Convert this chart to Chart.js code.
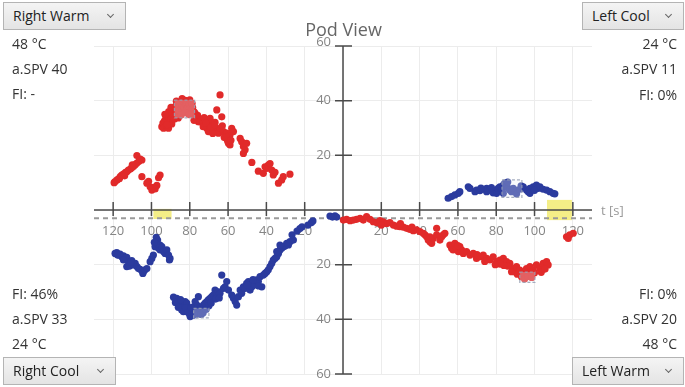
<!DOCTYPE html>
<html>

<head>
  <script src="https://cdn.jsdelivr.net/npm/chart.js@4.4.0/dist/chart.umd.min.js"></script>
  <style>
    body { margin: 0; background: #fff; font-family: 'Open Sans', sans-serif; }
    #wrap { position: relative; width: 685px; height: 387px; overflow: hidden; }
    #pod { position: absolute; left: 0; top: 0; }
    .title { position: absolute; left: 0; width: 687px; top: 17px; text-align: center; font-size: 18px; color: #666; }
    .combo { position: absolute; height: 26px; line-height: 26px; border: 1px solid #b4b4b4; padding-left: 9px;
      background: linear-gradient(#f4f4f4, #e4e4e4); font-size: 14px; color: #222; box-sizing: content-box; }
    .combo i { position: absolute; right: 12px; top: 9px; width: 4px; height: 4px; border-right: 1.4px solid #666;
      border-bottom: 1.4px solid #666; transform: rotate(45deg); }
    .lbl { position: absolute; font-size: 14px; color: #333; line-height: 20px; white-space: nowrap; }
    .l { left: 12px; }
    .r { right: 8px; text-align: right; }
  </style>
</head>

<body>
  <div id="wrap">
    <canvas id="pod" width="685" height="387"></canvas>
    <div class="title">Pod View</div>

    <div class="combo" style="left:3px;top:2px;width:112px">Right Warm<i></i></div>
    <div class="lbl l" style="top:34px">48 °C</div>
    <div class="lbl l" style="top:59px">a.SPV 40</div>
    <div class="lbl l" style="top:84px">FI: -</div>

    <div class="combo" style="left:582px;top:2px;width:91px">Left Cool<i></i></div>
    <div class="lbl r" style="top:34px">24 °C</div>
    <div class="lbl r" style="top:59px">a.SPV 11</div>
    <div class="lbl r" style="top:85px">FI: 0%</div>

    <div class="lbl l" style="top:284px">FI: 46%</div>
    <div class="lbl l" style="top:309px">a.SPV 33</div>
    <div class="lbl l" style="top:334px">24 °C</div>
    <div class="combo" style="left:3px;top:357px;width:102px">Right Cool<i></i></div>

    <div class="lbl r" style="top:284px">FI: 0%</div>
    <div class="lbl r" style="top:309px">a.SPV 20</div>
    <div class="lbl r" style="top:334px">48 °C</div>
    <div class="combo" style="left:572px;top:357px;width:101px">Left Warm<i></i></div>
  </div>

  <script type="text/javascript">
    // axes / ticks
    const xTicks = [-120, -100, -80, -60, -40, -20, 20, 40, 60, 80, 100, 120];
    const yTicks = [-60, -40, -20, 20, 40, 60];
    const xGrid = [-120, -100, -80, -60, -40, -20, 0, 20, 40, 60, 80, 100, 120];
    const yGrid = [-60, -40, -20, 0, 20, 40, 60];
    const baseLine = -3; // dashed line under the time axis

    // marked regions [x1, x2, y1, y2]
    const yellowBoxes = [[-99, -89.5, -3.3, 0.4], [106.5, 119.5, -3.7, 3.7]];
    const dashBoxes = [[-88, -77.5, 33.7, 40.2], [-78, -70, -39.5, -36], [83, 93.4, 4.6, 11], [92.3, 100.2, -26.5, -22.7]];

    // Right Warm (upper left, red)
    const rightWarm = [
      [-119.5, 10], [-119, 10.4], [-118, 11], [-117, 11.5], [-116.3, 12.2], [-115.5, 12.8], [-114.5, 13.2],
      [-113.5, 13.8], [-112.9, 14], [-112, 14.6], [-111, 15], [-110.3, 15.5], [-109.4, 15.9], [-108.5, 16.6],
      [-107.6, 17.2], [-107.6, 19.9], [-106.5, 17.8], [-105.9, 18.6], [-105, 18.3], [-110, 16.5], [-114, 12.5],
      [-116.8, 11.4],
      [-105, 12.2], [-102.4, 9.8], [-100.7, 8.5], [-99.8, 7.3], [-99, 8.2], [-98.1, 7.7], [-97.2, 9],
      [-96.3, 11.8], [-95.5, 12.8], [-101.5, 10.5],
      [-94.6, 30.5], [-94, 31.8], [-93.7, 31.3], [-93.2, 32.6], [-92.9, 32.3], [-92.5, 33.5], [-92, 33.5],
      [-91.5, 34.4], [-91.1, 34.1], [-90.3, 34.8], [-90, 33.2], [-89.4, 35.4], [-89, 36.5], [-88.5, 36.6],
      [-88.5, 34.5], [-87.7, 37.8], [-87.2, 35.9], [-86.8, 38.4], [-86.3, 37], [-85.9, 39], [-85.5, 36.3],
      [-85, 38.4], [-84.6, 39.5], [-84.2, 37.2], [-83.8, 38.1], [-83.3, 39.6], [-82.9, 37.5], [-82.4, 40.1],
      [-82, 38.7], [-81.6, 39], [-81.2, 37.3], [-80.7, 37.8], [-80.2, 38.8], [-79.8, 37.2], [-79.4, 35.9],
      [-79, 36.6], [-78.5, 37.5], [-78.1, 34.8], [-77.7, 35.9], [-77.2, 35.4], [-76.8, 34.3], [-76.3, 33.5],
      [-75.9, 34.6], [-75.5, 32.3], [-93.7, 29.9], [-92, 30.8], [-91.1, 29.9], [-90.3, 32], [-89.4, 31.5],
      [-88, 33.3], [-91, 36], [-89.8, 37.6], [-87, 39.8], [-84, 40.8], [-80, 40.3], [-78.8, 39], [-86, 33.7],
      [-84.5, 34.8], [-82.5, 35.6], [-80.5, 34.9], [-77.8, 32.8], [-93, 35], [-91.8, 31.2],
      [-74.6, 32.3], [-73.7, 32.9], [-72.9, 31.7], [-72, 31.1], [-71.1, 29.9], [-70.3, 28.7], [-69.4, 32.3],
      [-68.5, 30.5], [-67.7, 29.3], [-66.8, 29.9], [-65.9, 28.7], [-65, 28.1], [-64.2, 29.9], [-62.4, 28.7],
      [-61.6, 27.4], [-60.7, 28.1], [-59.8, 26.2], [-59, 27.4], [-58.1, 29.9], [-57.2, 28.7], [-59.8, 24.4],
      [-59, 23.8], [-53.7, 26.2], [-52.9, 25], [-52, 23.2], [-51.1, 22], [-50.3, 24.4], [-52, 20.7],
      [-65.9, 36.6], [-64.2, 42.1], [-63.3, 34.1], [-69.4, 33.5], [-66.8, 32.1], [-70.5, 31], [-61, 26.8],
      [-60.3, 25.3], [-73, 30.5], [-68, 28], [-72.5, 33.8], [-71.5, 31.8], [-69, 30.2], [-67, 31.2],
      [-63, 30.8], [-62, 26.5], [-58.5, 25.5],
      [-47.6, 17.4], [-44.2, 14.2], [-41.6, 13.4], [-40.7, 15.8], [-39.8, 15.2], [-39, 16.4], [-38.1, 17],
      [-37.2, 14.6], [-36.4, 12.8], [-35.5, 13.8], [-33.7, 9.8], [-32, 11], [-31.2, 12.2], [-27.7, 13.1]
    ];

    // Right Cool (lower left, blue)
    const rightCool = [
      [-119, -15.9], [-118.1, -15.6], [-117.2, -16.5], [-116.4, -16.1], [-115.5, -17.1], [-114.6, -16.8],
      [-113.7, -17.7], [-112.9, -17.3], [-112.9, -20.7], [-112, -18.9], [-111.1, -19.5], [-111.5, -20.5],
      [-110.3, -18.5], [-109.4, -20.1], [-108.5, -19.5], [-107.6, -20.7], [-106.8, -21.4], [-105.9, -21.7],
      [-105, -22.2], [-104.5, -23.2], [-104.2, -22.6], [-103.3, -21.9], [-102.4, -21.4], [-114.6, -18.3],
      [-117.8, -16.4], [-110.8, -19],
      [-100.7, -18.9], [-99.8, -17.7], [-99, -16.5], [-98.1, -13.4], [-97.2, -12.2], [-96.8, -11],
      [-96.3, -14], [-95.5, -14.6], [-95.5, -12.8], [-94.6, -13.4], [-93.7, -15.2], [-92.9, -15.9],
      [-92, -14.6], [-91.1, -16.5], [-90.6, -18.3], [-90.3, -17.7], [-97.5, -10], [-98.5, -11.8],
      [-88.5, -31.9], [-86.8, -32.3], [-85.9, -33.5], [-85, -34.8], [-84.2, -36.6], [-83.3, -35.4],
      [-82.4, -33.5], [-81.6, -34.1], [-80.7, -36], [-79.8, -39], [-79, -37.2], [-78.1, -35.4], [-77.2, -36.6],
      [-76.3, -34.8], [-75.5, -37.8], [-74.6, -36], [-73.7, -36.6], [-72.9, -34.8], [-72, -34.1],
      [-71.1, -33.5], [-70.3, -32.9], [-69.4, -32.3], [-68.5, -31.7], [-67.7, -31.1], [-66.8, -29.3],
      [-65.9, -30.5], [-65, -29.9], [-64.2, -30.5], [-63.3, -23.8], [-62.4, -28.7], [-61.6, -28.1],
      [-60.7, -26.2], [-59.8, -29.3], [-83.3, -37.2], [-75.5, -31.7], [-77.2, -33.5], [-80.2, -38],
      [-78.5, -38.5], [-76.8, -38.3], [-74, -38.2], [-70, -35], [-82, -35.8], [-87.5, -33.8], [-86, -35.6],
      [-84.8, -32.8], [-81, -37.4], [-79.4, -35.7], [-77.8, -37.8], [-73, -37.6], [-71.5, -36.4],
      [-68.8, -34], [-66.5, -32.6], [-64.6, -32.2],
      [-58.1, -31.1], [-57.2, -32.3], [-56.3, -33.5], [-55.5, -34.8], [-54.6, -31.7], [-53.7, -29.3],
      [-52.9, -30.5], [-52, -28.1], [-51.1, -28.7], [-50.3, -26.8], [-49.4, -26.2], [-48.5, -29.3],
      [-47.6, -28.1], [-46.8, -26.8], [-45.9, -27.4], [-45, -25.6], [-44.2, -26.2], [-43.3, -24.4],
      [-42.4, -28.1], [-41.6, -23.8], [-40.7, -23.2], [-39.8, -22.6], [-39, -21.9], [-38.1, -20.7],
      [-37.2, -19.5], [-36.4, -18.3], [-35.5, -17.7], [-34.6, -17.1], [-33.7, -15.9], [-32.9, -14.6],
      [-32, -14], [-31.2, -13.4], [-30.3, -13.2], [-29.4, -12.2], [-28.5, -12.8], [-27.7, -11.6],
      [-25.9, -11], [-32.9, -12.8], [-34.6, -15.2], [-50, -27.5], [-47, -25.5], [-44, -27.8],
      [-26.6, -9.1], [-24, -7.7], [-22.5, -6.8], [-21.4, -6.2], [-18.3, -5.5], [-16.5, -4.6], [-15.7, -4],
      [-6.8, -2.2], [-5.5, -2.6], [-4.2, -2.1], [-3.3, -2.6]
    ];

    // Left Cool (upper right, blue)
    const leftCool = [
      [54.9, 4.3], [56.7, 4.9], [58.4, 5.5], [60.2, 6.1], [61, 6.7], [65.4, 8.5], [66.3, 7.9], [68.9, 6.7],
      [69.7, 7.3], [71.5, 7.1], [73.2, 7.6], [75, 6.7], [75, 7.9], [76.7, 7.3], [78.4, 6.3], [80.2, 7.1],
      [80.2, 6.1], [81, 7.9], [81.9, 8.5], [82.8, 7.1], [83.7, 9.1], [83.7, 6.1], [84.5, 9.8], [85.4, 8.5],
      [86.3, 7.9], [87.1, 7.3], [88, 6.7], [88.9, 7.9], [90.6, 7.1], [90.6, 5.9], [92.3, 7.6], [94.1, 8.5],
      [95.8, 7.3], [96.7, 6.7], [97.6, 7.9], [97.6, 6.1], [99.3, 8.5], [101, 9.1], [101.9, 7.9], [102.8, 8.5],
      [104.5, 7.6], [106.3, 7.3], [108, 6.7], [109.7, 6.1], [110.6, 5.9], [72, 8], [77.5, 8.2], [93, 8.8],
      [100, 7.2], [86, 10.2]
    ];

    // Left Warm (lower right, red)
    const leftWarm = [
      [0.2, -3.7], [1.9, -3.4], [3.7, -3.9], [5.4, -3.7], [7.1, -3.4], [8.9, -3.1], [10.6, -3.7], [12.3, -2.4],
      [14.1, -3.4], [15.8, -4.3], [17.6, -4.6], [19.3, -3.9], [21, -4.3], [22.8, -4.9], [24.5, -4.6],
      [26.3, -5.5], [28, -5.9], [29.7, -6.1], [31.5, -6.3], [33.2, -6.7], [35, -7.1], [36.7, -7.6],
      [38.4, -7.3], [40.2, -7.9], [41.9, -8.5], [42.8, -9.1], [43.7, -9.8], [44.5, -11], [45.4, -11.6],
      [46.3, -12.2], [47.1, -10.4], [48.9, -9.1], [48.9, -6.7], [50.6, -11], [51.5, -9.8], [52.3, -9.1],
      [53.2, -8.5], [45.4, -9.8], [55.8, -12.8], [56.7, -14], [57.5, -14.6], [58.4, -12.2], [59.3, -14],
      [60.2, -15.2], [61, -13.4], [61.9, -14.6], [62.8, -15.9], [64.5, -15.2], [66.3, -16.5], [68, -15.9],
      [69.7, -17.7], [71.5, -17.1], [73.2, -16.5], [75, -17.7], [76.7, -18.3], [78.4, -17.1], [80.2, -18.9],
      [81.9, -18.3], [83.7, -17.7], [85.4, -18.9], [87.1, -19.5], [88.9, -21.4], [89.6, -22.6], [90.6, -20.7],
      [92.3, -22], [93.2, -24.4], [94.1, -23.2], [95.8, -21.4], [97.6, -20.7], [97.6, -23.2], [99.3, -22],
      [101, -20.1], [102.8, -21.4], [104.5, -19.5], [106.3, -18.9], [107.1, -20.1], [20, -5.5], [30, -5],
      [36, -6.3], [60, -13], [70, -16.3], [86, -20.5], [100, -23], [94.8, -25.2], [96.5, -24.3], [98.5, -24.7],
      [91, -23.5], [103.5, -22.8], [105.5, -21.6], [88, -22.6], [84, -20.3], [82, -19.8], [79.5, -20],
      [74, -18.8],
      [116.7, -9.8], [117.6, -10.4], [118.4, -9.1], [120.2, -8.5]
    ];

    const RED = '#e12a2a';
    const BLUE = '#2b3b9e';

    function pts(list) {
      return list.map(function(p) { return { x: p[0], y: p[1] }; });
    }

    // centre axes, ticks, marked regions
    const podAxes = {
      id: 'podAxes',
      beforeDatasetsDraw: function(chart) {
        var ctx = chart.ctx, a = chart.chartArea;
        var sx = chart.scales.x, sy = chart.scales.y;
        var x0 = sx.getPixelForValue(0), y0 = sy.getPixelForValue(0);
        ctx.save();

        ctx.fillStyle = 'rgba(240,232,95,0.75)';
        yellowBoxes.forEach(function(b) {
          var l = sx.getPixelForValue(b[0]), r = sx.getPixelForValue(b[1]);
          var t = sy.getPixelForValue(b[3]), btm = sy.getPixelForValue(b[2]);
          ctx.fillRect(l, t, r - l, btm - t);
        });

        // dashed line
        var yb = sy.getPixelForValue(baseLine);
        ctx.strokeStyle = '#9a9a9a';
        ctx.lineWidth = 2;
        ctx.setLineDash([5, 4]);
        ctx.beginPath();
        ctx.moveTo(a.left, yb);
        ctx.lineTo(a.right, yb);
        ctx.stroke();
        ctx.setLineDash([]);

        // axes
        ctx.strokeStyle = '#4a4a4a';
        ctx.lineWidth = 1.5;
        ctx.beginPath();
        ctx.moveTo(a.left, y0);
        ctx.lineTo(a.right, y0);
        ctx.moveTo(x0, a.top);
        ctx.lineTo(x0, a.bottom);
        xTicks.forEach(function(v) {
          var px = sx.getPixelForValue(v);
          ctx.moveTo(px, y0 - 8);
          ctx.lineTo(px, y0 + 6);
        });
        yTicks.forEach(function(v) {
          var py = sy.getPixelForValue(v);
          ctx.moveTo(x0 - 8, py);
          ctx.lineTo(x0 + 9, py);
        });
        ctx.stroke();

        // tick labels (absolute values)
        ctx.font = '13px "Open Sans"';
        ctx.fillStyle = '#858585';
        ctx.textAlign = 'center';
        ctx.textBaseline = 'middle';
        xTicks.forEach(function(v) {
          ctx.fillText(String(Math.abs(v)), sx.getPixelForValue(v), y0 + 21);
        });
        ctx.textAlign = 'right';
        yTicks.forEach(function(v) {
          var py = sy.getPixelForValue(v);
          if (v === 60) py -= 4;
          ctx.fillText(String(Math.abs(v)), x0 - 12, py);
        });

        ctx.textAlign = 'left';
        ctx.fillStyle = '#9a9a9a';
        ctx.fillText('t [s]', a.right + 9, y0 + 1);
        ctx.restore();
      },
      afterDatasetsDraw: function(chart) {
        var ctx = chart.ctx;
        var sx = chart.scales.x, sy = chart.scales.y;
        ctx.save();
        ctx.setLineDash([3, 2]);
        ctx.lineWidth = 1.2;
        ctx.strokeStyle = 'rgba(150,160,180,0.85)';
        ctx.fillStyle = 'rgba(232,236,244,0.28)';
        dashBoxes.forEach(function(b) {
          var l = sx.getPixelForValue(b[0]), r = sx.getPixelForValue(b[1]);
          var t = sy.getPixelForValue(b[3]), btm = sy.getPixelForValue(b[2]);
          ctx.fillRect(l, t, r - l, btm - t);
          ctx.strokeRect(l, t, r - l, btm - t);
        });
        ctx.restore();
      }
    };

    function ds(label, list, color) {
      return {
        label: label,
        data: pts(list),
        backgroundColor: color,
        borderColor: color,
        borderWidth: 0,
        pointRadius: 3.6
      };
    }

    var ctx = document.getElementById('pod').getContext('2d');
    var chart = new Chart(ctx, {
      type: 'scatter',
      data: {
        datasets: [
          ds('Right Warm', rightWarm, RED),
          ds('Right Cool', rightCool, BLUE),
          ds('Left Cool', leftCool, BLUE),
          ds('Left Warm', leftWarm, RED)
        ]
      },
      options: {
        responsive: false,
        animation: false,
        events: [],
        layout: { padding: { left: 94, right: 93, top: 46, bottom: 13 } },
        plugins: { legend: { display: false }, tooltip: { enabled: false } },
        scales: {
          x: {
            min: -130, max: 130,
            afterBuildTicks: function(axis) { axis.ticks = xGrid.map(function(v) { return { value: v }; }); },
            ticks: { display: false },
            border: { display: false },
            grid: { color: '#ececec', drawTicks: false }
          },
          y: {
            min: -60, max: 60,
            afterBuildTicks: function(axis) { axis.ticks = yGrid.map(function(v) { return { value: v }; }); },
            ticks: { display: false },
            border: { display: false },
            grid: { color: '#ececec', drawTicks: false }
          }
        }
      },
      plugins: [podAxes]
    });
  </script>
</body>

</html>
